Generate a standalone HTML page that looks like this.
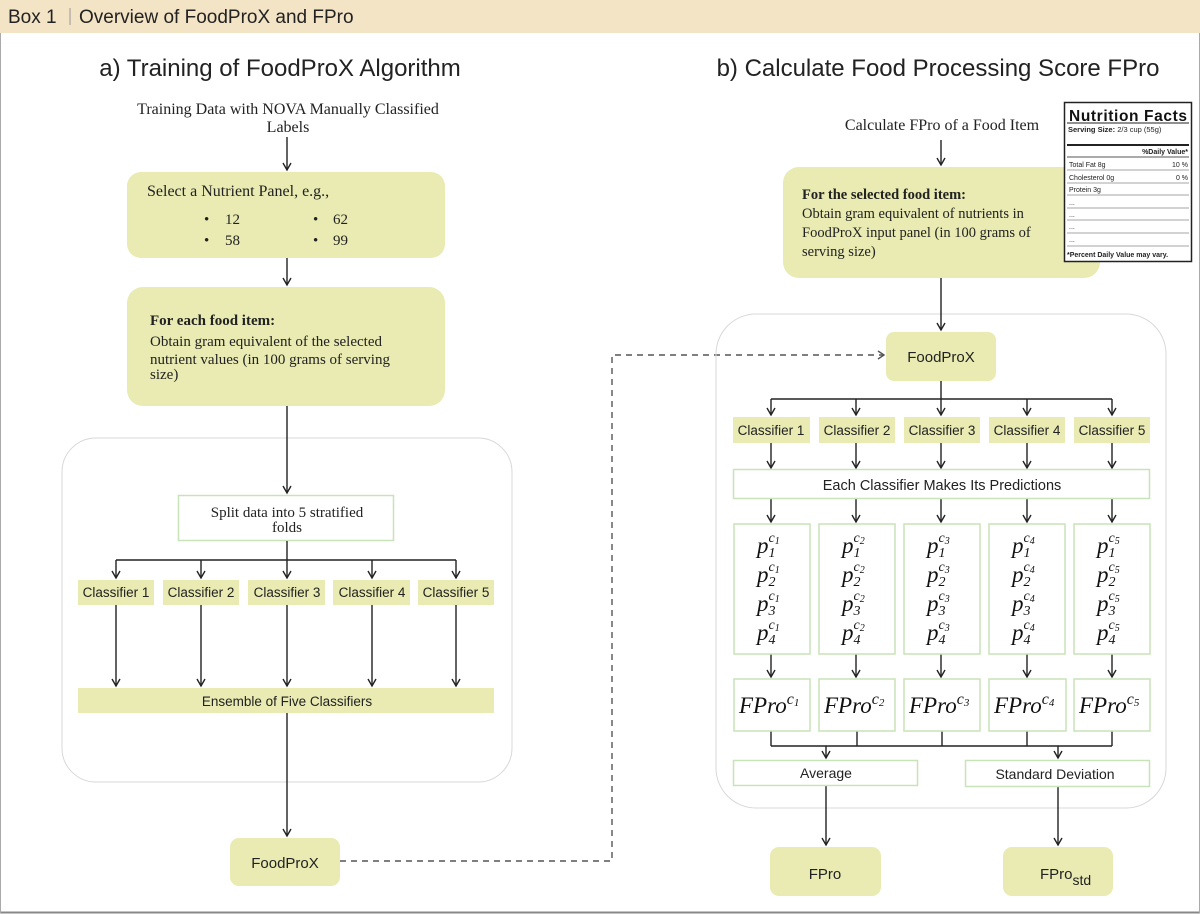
<!DOCTYPE html>
<html><head><meta charset="utf-8"><style>
html,body{margin:0;padding:0;background:#fff}
svg{display:block}
.sans{font-family:"Liberation Sans",sans-serif}
.serif{font-family:"Liberation Serif",serif}
.m{font-family:"Liberation Serif",serif;font-style:italic;font-size:23px;fill:#111}
</style></head><body>
<svg width="1200" height="914" viewBox="0 0 1200 914" xmlns="http://www.w3.org/2000/svg">
<defs>
<marker id="a" markerWidth="12" markerHeight="12" refX="9" refY="6" orient="auto" markerUnits="userSpaceOnUse" viewBox="0 0 12 12"><path d="M2,2 L9,6 L2,10" fill="none" stroke="#222" stroke-width="1.4"/></marker>
<marker id="ad" markerWidth="12" markerHeight="12" refX="9" refY="6" orient="auto" markerUnits="userSpaceOnUse" viewBox="0 0 12 12"><path d="M3,2 L9,6 L3,10" fill="none" stroke="#555" stroke-width="1.4"/></marker>
</defs>
<rect x="0" y="0" width="1200" height="914" fill="#fff"/>
<rect x="0" y="0" width="1200" height="33" fill="#f3e4c6"/>
<line x1="0" y1="912.5" x2="1200" y2="912.5" stroke="#888" stroke-width="2"/>
<line x1="0.5" y1="33" x2="0.5" y2="913" stroke="#aaa"/>
<line x1="1199.5" y1="33" x2="1199.5" y2="913" stroke="#aaa"/>
<text x="8" y="23" class="sans" font-size="19" fill="#222">Box 1</text>
<line x1="70" y1="8" x2="70" y2="25" stroke="#999"/>
<text x="79" y="23" class="sans" font-size="19" fill="#222">Overview of FoodProX and FPro</text>

<text x="280" y="76" class="sans" font-size="24" fill="#222" text-anchor="middle">a) Training of FoodProX Algorithm</text>
<text x="938" y="76" class="sans" font-size="24" fill="#222" text-anchor="middle">b) Calculate Food Processing Score FPro</text>

<!-- LEFT -->
<text x="288" y="114" class="serif" font-size="16" fill="#222" text-anchor="middle">Training Data with NOVA Manually Classified</text>
<text x="288" y="132" class="serif" font-size="16" fill="#222" text-anchor="middle">Labels</text>
<line x1="287" y1="137" x2="287" y2="170" stroke="#222" stroke-width="1.4" marker-end="url(#a)"/>
<rect x="127" y="172" width="318" height="86" rx="14" fill="#e9ebb2"/>
<text x="147" y="196" class="serif" font-size="16" fill="#222">Select a Nutrient Panel, e.g.,</text>
<g class="serif" font-size="15" fill="#222">
<text x="204" y="224">•</text><text x="225" y="224">12</text>
<text x="204" y="245">•</text><text x="225" y="245">58</text>
<text x="313" y="224">•</text><text x="333" y="224">62</text>
<text x="313" y="245">•</text><text x="333" y="245">99</text>
</g>
<line x1="287" y1="258" x2="287" y2="285" stroke="#222" stroke-width="1.4" marker-end="url(#a)"/>
<rect x="127" y="287" width="318" height="119" rx="16" fill="#e9ebb2"/>
<text x="150" y="325" class="serif" font-size="15" font-weight="bold" fill="#222">For each food item:</text>
<text x="150" y="346" class="serif" font-size="15" fill="#222">Obtain gram equivalent of the selected</text>
<text x="150" y="364" class="serif" font-size="15" fill="#222">nutrient values (in 100 grams of serving</text>
<text x="150" y="379" class="serif" font-size="15" fill="#222">size)</text>
<rect x="62" y="438" width="450" height="344" rx="34" fill="none" stroke="#d8d8d8"/>
<line x1="287" y1="406" x2="287" y2="493" stroke="#222" stroke-width="1.4" marker-end="url(#a)"/>
<rect x="178.5" y="495.5" width="215" height="45" fill="#fff" stroke="#c9e3b8" stroke-width="1.5"/>
<text x="287" y="517" class="serif" font-size="15" fill="#222" text-anchor="middle">Split data into 5 stratified</text>
<text x="287" y="532" class="serif" font-size="15" fill="#222" text-anchor="middle">folds</text>
<g stroke="#222" stroke-width="1.4" fill="none">
<line x1="287" y1="541" x2="287" y2="578" marker-end="url(#a)"/>
<line x1="116" y1="560" x2="456" y2="560"/>
<line x1="116" y1="560" x2="116" y2="578" marker-end="url(#a)"/>
<line x1="201" y1="560" x2="201" y2="578" marker-end="url(#a)"/>
<line x1="372" y1="560" x2="372" y2="578" marker-end="url(#a)"/>
<line x1="456" y1="560" x2="456" y2="578" marker-end="url(#a)"/>
<line x1="116" y1="605" x2="116" y2="686" marker-end="url(#a)"/>
<line x1="201" y1="605" x2="201" y2="686" marker-end="url(#a)"/>
<line x1="287" y1="605" x2="287" y2="686" marker-end="url(#a)"/>
<line x1="372" y1="605" x2="372" y2="686" marker-end="url(#a)"/>
<line x1="456" y1="605" x2="456" y2="686" marker-end="url(#a)"/>
<line x1="287" y1="713" x2="287" y2="836" marker-end="url(#a)"/>
</g>
<g fill="#e9ebb2">
<rect x="78" y="580" width="76" height="25"/><rect x="163" y="580" width="76" height="25"/><rect x="248" y="580" width="77" height="25"/><rect x="333" y="580" width="77" height="25"/><rect x="418" y="580" width="76" height="25"/>
<rect x="78" y="688" width="416" height="25"/>
</g>
<g class="sans" font-size="13.5" fill="#222" text-anchor="middle">
<text x="116" y="597">Classifier 1</text><text x="201" y="597">Classifier 2</text><text x="287" y="597">Classifier 3</text><text x="372" y="597">Classifier 4</text><text x="456" y="597">Classifier 5</text>
<text x="287" y="706">Ensemble of Five Classifiers</text>
</g>
<rect x="230" y="838" width="110" height="48" rx="9" fill="#e9ebb2"/>
<text x="285" y="868" class="sans" font-size="15" fill="#222" text-anchor="middle">FoodProX</text>
<path d="M340,861 H612 V355 H884" fill="none" stroke="#555" stroke-width="1.4" stroke-dasharray="6,5" marker-end="url(#ad)"/>

<!-- RIGHT -->
<text x="942" y="130" class="serif" font-size="16" fill="#222" text-anchor="middle">Calculate FPro of a Food Item</text>
<line x1="941" y1="140" x2="941" y2="165" stroke="#222" stroke-width="1.4" marker-end="url(#a)"/>
<rect x="783" y="167" width="317" height="111" rx="16" fill="#e9ebb2"/>
<text x="802" y="199" class="serif" font-size="14.5" font-weight="bold" fill="#222">For the selected food item:</text>
<text x="802" y="218" class="serif" font-size="14.5" fill="#222">Obtain gram equivalent of nutrients in</text>
<text x="802" y="237" class="serif" font-size="14.5" fill="#222">FoodProX input panel (in 100 grams of</text>
<text x="802" y="256" class="serif" font-size="14.5" fill="#222">serving size)</text>

<!-- nutrition facts -->
<rect x="1064.5" y="102.5" width="127" height="159" fill="#fff" stroke="#222" stroke-width="1.5"/>
<text x="1069" y="121" class="sans" font-size="15.5" font-weight="bold" fill="#111" textLength="118">Nutrition Facts</text>
<line x1="1067" y1="123" x2="1189" y2="123" stroke="#222"/>
<text x="1068" y="132" class="sans" font-size="7.5" fill="#222"><tspan font-weight="bold">Serving Size:</tspan>  2/3 cup (55g)</text>
<line x1="1067" y1="145" x2="1189" y2="145" stroke="#222" stroke-width="2"/>
<text x="1188" y="154" class="sans" font-size="7" font-weight="bold" fill="#222" text-anchor="end">%Daily Value*</text>
<line x1="1067" y1="157" x2="1189" y2="157" stroke="#555"/>
<g class="sans" font-size="7" fill="#222">
<text x="1069" y="167">Total Fat 8g</text><text x="1188" y="167" text-anchor="end">10 %</text>
<text x="1069" y="180">Cholesterol 0g</text><text x="1188" y="180" text-anchor="end">0 %</text>
<text x="1069" y="192">Protein 3g</text>
<text x="1069" y="205">...</text><text x="1069" y="217">...</text><text x="1069" y="229">...</text><text x="1069" y="242">...</text>
<text x="1067" y="257" font-weight="bold" font-size="7">*Percent Daily Value may vary.</text>
</g>
<g stroke="#888" stroke-width="0.8">
<line x1="1067" y1="170" x2="1189" y2="170"/><line x1="1067" y1="183" x2="1189" y2="183"/><line x1="1067" y1="195" x2="1189" y2="195"/><line x1="1067" y1="208" x2="1189" y2="208"/><line x1="1067" y1="220" x2="1189" y2="220"/><line x1="1067" y1="233" x2="1189" y2="233"/><line x1="1067" y1="246" x2="1189" y2="246"/>
</g>

<rect x="716" y="314" width="450" height="494" rx="40" fill="none" stroke="#d8d8d8"/>
<line x1="941" y1="278" x2="941" y2="330" stroke="#222" stroke-width="1.4" marker-end="url(#a)"/>
<rect x="886" y="332" width="110" height="49" rx="8" fill="#e9ebb2"/>
<text x="941" y="362" class="sans" font-size="15" fill="#222" text-anchor="middle">FoodProX</text>

<g stroke="#222" stroke-width="1.4" fill="none">
<line x1="941" y1="381" x2="941" y2="415" marker-end="url(#a)"/>
<line x1="771" y1="399" x2="1112" y2="399"/>
<line x1="771" y1="399" x2="771" y2="415" marker-end="url(#a)"/>
<line x1="856" y1="399" x2="856" y2="415" marker-end="url(#a)"/>
<line x1="1027" y1="399" x2="1027" y2="415" marker-end="url(#a)"/>
<line x1="1112" y1="399" x2="1112" y2="415" marker-end="url(#a)"/>
<line x1="771" y1="443" x2="771" y2="468" marker-end="url(#a)"/>
<line x1="856" y1="443" x2="856" y2="468" marker-end="url(#a)"/>
<line x1="941" y1="443" x2="941" y2="468" marker-end="url(#a)"/>
<line x1="1027" y1="443" x2="1027" y2="468" marker-end="url(#a)"/>
<line x1="1112" y1="443" x2="1112" y2="468" marker-end="url(#a)"/>
<line x1="771" y1="499" x2="771" y2="522" marker-end="url(#a)"/>
<line x1="856" y1="499" x2="856" y2="522" marker-end="url(#a)"/>
<line x1="941" y1="499" x2="941" y2="522" marker-end="url(#a)"/>
<line x1="1027" y1="499" x2="1027" y2="522" marker-end="url(#a)"/>
<line x1="1112" y1="499" x2="1112" y2="522" marker-end="url(#a)"/>
<line x1="771" y1="654" x2="771" y2="677" marker-end="url(#a)"/>
<line x1="856" y1="654" x2="856" y2="677" marker-end="url(#a)"/>
<line x1="941" y1="654" x2="941" y2="677" marker-end="url(#a)"/>
<line x1="1027" y1="654" x2="1027" y2="677" marker-end="url(#a)"/>
<line x1="1112" y1="654" x2="1112" y2="677" marker-end="url(#a)"/>
<line x1="771" y1="731" x2="771" y2="746"/>
<line x1="857" y1="731" x2="857" y2="746"/>
<line x1="942" y1="731" x2="942" y2="746"/>
<line x1="1027" y1="731" x2="1027" y2="746"/>
<line x1="1112" y1="731" x2="1112" y2="746"/>
<line x1="771" y1="746" x2="1112" y2="746"/>
<line x1="826" y1="746" x2="826" y2="758" marker-end="url(#a)"/>
<line x1="1058" y1="746" x2="1058" y2="758" marker-end="url(#a)"/>
<line x1="826" y1="786" x2="826" y2="845" marker-end="url(#a)"/>
<line x1="1058" y1="787" x2="1058" y2="845" marker-end="url(#a)"/>
</g>
<g fill="#e9ebb2">
<rect x="733" y="417" width="77" height="26"/><rect x="819" y="417" width="76" height="26"/><rect x="904" y="417" width="76" height="26"/><rect x="989" y="417" width="76" height="26"/><rect x="1074" y="417" width="76" height="26"/>
</g>
<g class="sans" font-size="13.5" fill="#222" text-anchor="middle">
<text x="771" y="435">Classifier 1</text><text x="857" y="435">Classifier 2</text><text x="942" y="435">Classifier 3</text><text x="1027" y="435">Classifier 4</text><text x="1112" y="435">Classifier 5</text>
</g>
<g fill="#fff" stroke="#c9e3b8" stroke-width="1.5">
<rect x="733.5" y="469.5" width="416" height="29"/>
<rect x="734" y="524" width="76" height="130"/><rect x="819" y="524" width="76" height="130"/><rect x="904" y="524" width="76" height="130"/><rect x="989" y="524" width="76" height="130"/><rect x="1074" y="524" width="76" height="130"/>
<rect x="734" y="679" width="76" height="52"/><rect x="819" y="679" width="76" height="52"/><rect x="904" y="679" width="76" height="52"/><rect x="989" y="679" width="77" height="52"/><rect x="1074" y="679" width="76" height="52"/>
<rect x="733.5" y="760.5" width="184" height="25"/>
<rect x="965.5" y="760.5" width="184" height="26"/>
</g>
<text x="942" y="490" class="sans" font-size="14.5" fill="#222" text-anchor="middle">Each Classifier Makes Its Predictions</text>
<text x="826" y="778" class="sans" font-size="14" fill="#222" text-anchor="middle">Average</text>
<text x="1055" y="779" class="sans" font-size="14" fill="#222" text-anchor="middle">Standard Deviation</text>

<!-- p entries -->
<g class="m">
<text x="757" y="553">p<tspan font-size="14" dy="4">1</tspan><tspan font-size="14" dx="-7" dy="-15">c</tspan><tspan font-size="10" dy="2">1</tspan></text>
<text x="757" y="582">p<tspan font-size="14" dy="4">2</tspan><tspan font-size="14" dx="-7" dy="-15">c</tspan><tspan font-size="10" dy="2">1</tspan></text>
<text x="757" y="611">p<tspan font-size="14" dy="4">3</tspan><tspan font-size="14" dx="-7" dy="-15">c</tspan><tspan font-size="10" dy="2">1</tspan></text>
<text x="757" y="640">p<tspan font-size="14" dy="4">4</tspan><tspan font-size="14" dx="-7" dy="-15">c</tspan><tspan font-size="10" dy="2">1</tspan></text>
<text x="842" y="553">p<tspan font-size="14" dy="4">1</tspan><tspan font-size="14" dx="-7" dy="-15">c</tspan><tspan font-size="10" dy="2">2</tspan></text>
<text x="842" y="582">p<tspan font-size="14" dy="4">2</tspan><tspan font-size="14" dx="-7" dy="-15">c</tspan><tspan font-size="10" dy="2">2</tspan></text>
<text x="842" y="611">p<tspan font-size="14" dy="4">3</tspan><tspan font-size="14" dx="-7" dy="-15">c</tspan><tspan font-size="10" dy="2">2</tspan></text>
<text x="842" y="640">p<tspan font-size="14" dy="4">4</tspan><tspan font-size="14" dx="-7" dy="-15">c</tspan><tspan font-size="10" dy="2">2</tspan></text>
<text x="927" y="553">p<tspan font-size="14" dy="4">1</tspan><tspan font-size="14" dx="-7" dy="-15">c</tspan><tspan font-size="10" dy="2">3</tspan></text>
<text x="927" y="582">p<tspan font-size="14" dy="4">2</tspan><tspan font-size="14" dx="-7" dy="-15">c</tspan><tspan font-size="10" dy="2">3</tspan></text>
<text x="927" y="611">p<tspan font-size="14" dy="4">3</tspan><tspan font-size="14" dx="-7" dy="-15">c</tspan><tspan font-size="10" dy="2">3</tspan></text>
<text x="927" y="640">p<tspan font-size="14" dy="4">4</tspan><tspan font-size="14" dx="-7" dy="-15">c</tspan><tspan font-size="10" dy="2">3</tspan></text>
<text x="1012" y="553">p<tspan font-size="14" dy="4">1</tspan><tspan font-size="14" dx="-7" dy="-15">c</tspan><tspan font-size="10" dy="2">4</tspan></text>
<text x="1012" y="582">p<tspan font-size="14" dy="4">2</tspan><tspan font-size="14" dx="-7" dy="-15">c</tspan><tspan font-size="10" dy="2">4</tspan></text>
<text x="1012" y="611">p<tspan font-size="14" dy="4">3</tspan><tspan font-size="14" dx="-7" dy="-15">c</tspan><tspan font-size="10" dy="2">4</tspan></text>
<text x="1012" y="640">p<tspan font-size="14" dy="4">4</tspan><tspan font-size="14" dx="-7" dy="-15">c</tspan><tspan font-size="10" dy="2">4</tspan></text>
<text x="1097" y="553">p<tspan font-size="14" dy="4">1</tspan><tspan font-size="14" dx="-7" dy="-15">c</tspan><tspan font-size="10" dy="2">5</tspan></text>
<text x="1097" y="582">p<tspan font-size="14" dy="4">2</tspan><tspan font-size="14" dx="-7" dy="-15">c</tspan><tspan font-size="10" dy="2">5</tspan></text>
<text x="1097" y="611">p<tspan font-size="14" dy="4">3</tspan><tspan font-size="14" dx="-7" dy="-15">c</tspan><tspan font-size="10" dy="2">5</tspan></text>
<text x="1097" y="640">p<tspan font-size="14" dy="4">4</tspan><tspan font-size="14" dx="-7" dy="-15">c</tspan><tspan font-size="10" dy="2">5</tspan></text>
</g>
<g class="m" font-size="22">
<text x="739" y="713">FPro<tspan font-size="16" dy="-9">c</tspan><tspan font-size="11" dy="2">1</tspan></text>
<text x="824" y="713">FPro<tspan font-size="16" dy="-9">c</tspan><tspan font-size="11" dy="2">2</tspan></text>
<text x="909" y="713">FPro<tspan font-size="16" dy="-9">c</tspan><tspan font-size="11" dy="2">3</tspan></text>
<text x="994" y="713">FPro<tspan font-size="16" dy="-9">c</tspan><tspan font-size="11" dy="2">4</tspan></text>
<text x="1079" y="713">FPro<tspan font-size="16" dy="-9">c</tspan><tspan font-size="11" dy="2">5</tspan></text>
</g>

<rect x="770" y="847" width="111" height="49" rx="9" fill="#e9ebb2"/>
<text x="825" y="879" class="sans" font-size="15" fill="#222" text-anchor="middle">FPro</text>
<rect x="1003" y="847" width="110" height="49" rx="9" fill="#e9ebb2"/>
<text x="1040" y="879" class="sans" font-size="15" fill="#222">FPro<tspan font-size="14" dy="6">std</tspan></text>
</svg>
</body></html>
